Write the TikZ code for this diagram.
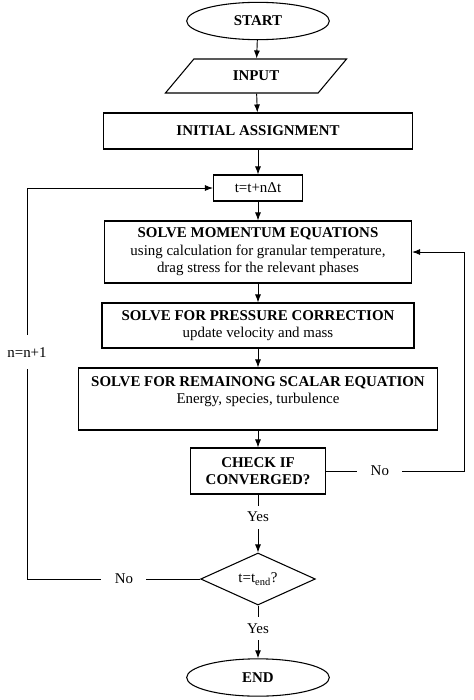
\documentclass[tikz,border=0pt]{standalone}
\usepackage{fontspec}
\setmainfont{Liberation Serif}
\usepackage{tikz}
\usetikzlibrary{arrows.meta,shapes.geometric,positioning}

\begin{document}
\begin{tikzpicture}[x=0.75pt,y=-0.75pt,>={Latex[length=6pt,width=4.5pt]},
  every node/.style={font=\fontsize{11.2}{13.2}\selectfont},
  box/.style={draw,line width=0.8pt,rectangle,align=center,inner sep=2pt},
  term/.style={draw,line width=0.8pt,ellipse,minimum width=107pt,minimum height=28pt,inner sep=0pt,font=\fontsize{11.2}{13.2}\selectfont\bfseries},
  io/.style={draw,line width=0.8pt,trapezium,trapezium left angle=43,trapezium right angle=137,trapezium stretches=true,minimum width=136.5pt,minimum height=25.5pt,inner sep=0pt,font=\fontsize{11.2}{13.2}\selectfont\bfseries},
  dec/.style={draw,line width=0.8pt,diamond,minimum width=86pt,minimum height=39pt,inner sep=0pt},
  gap/.style={fill=white,inner xsep=10pt,inner ysep=5pt},
  line/.style={line width=0.7pt}]
  \useasboundingbox (0,0) rectangle (474,700);
  % Blocks of the flow chart
  \node[term] (start) at (258,21) {START};
  \node[io] (input) at (256,76) {INPUT};
  \node[box,minimum width=231.75pt,minimum height=27pt] (init) at (258,131) {\textbf{INITIAL ASSIGNMENT}};
  \node[box,minimum width=66.75pt,minimum height=19.5pt] (step) at (258,188) {t=t+nΔt};
  \node[box,minimum width=230.25pt,minimum height=46.5pt] (mom) at (258,252)
    {\textbf{SOLVE MOMENTUM EQUATIONS}\\using calculation for granular temperature,\\drag stress for the relevant phases};
  \node[box,minimum width=234pt,minimum height=33.75pt] (pres) at (258,325.5)
    {\textbf{SOLVE FOR PRESSURE CORRECTION}\\update velocity and mass};
  \node[box,minimum width=269.25pt,minimum height=46.5pt] (rem) at (258,399)
    {\textbf{SOLVE FOR REMAINONG SCALAR EQUATION}\\Energy, species, turbulence\\~};
  \node[box,minimum width=101.25pt,minimum height=34.5pt] (check) at (258,471)
    {\textbf{CHECK IF}\\\textbf{CONVERGED?}};
  \node[dec] (dia) at (258,579) {t=t\textsubscript{end}?};
  \node[term] (end) at (258,677.5) {END};
  % Loop corners
  \coordinate (lft) at (27,0);
  \coordinate (rgt) at (464,0);
  % Main line
  \draw[line,->] (start) -- (input);
  \draw[line,->] (input) -- (init);
  \draw[line,->] (init) -- (step);
  \draw[line,->] (step) -- (mom);
  \draw[line,->] (mom) -- (pres);
  \draw[line,->] (pres) -- (rem);
  \draw[line,->] (rem) -- (check);
  \draw[line,->] (check) -- node[gap,pos=0.39]{Yes} (dia);
  \draw[line,->] (dia) -- node[gap,pos=0.44]{Yes} (end);
  % Loops back
  \draw[line,->] (check.east) -- node[gap,pos=0.39]{No} (check.east -| rgt) -- (mom.east -| rgt) -- (mom.east);
  \draw[line,->] (dia.west) -- node[gap,pos=0.44]{No} (dia.west -| lft)
    -- node[gap,pos=0.58,inner ysep=9pt,inner xsep=2pt]{n=n+1} (step.west -| lft) -- (step.west);
\end{tikzpicture}
\end{document}
